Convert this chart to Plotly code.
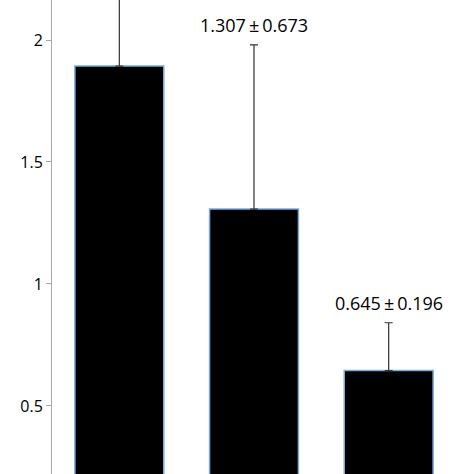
import plotly.graph_objects as go

# data
groups = ["A", "B", "C"]
means = [1.893, 1.307, 0.645]
errors = [0.55, 0.673, 0.196]
# first bar's label sits above the cropped top of the picture
labels = ["", "1.307\u2009±\u20090.673", "0.645\u2009±\u20090.196"]
y_ticks = [0.5, 1, 1.5, 2]

fig = go.Figure()
fig.add_trace(go.Bar(
    x=groups, y=means, width=0.66,
    marker=dict(color="black", line=dict(color="#78aadb", width=1.5)),
    error_y=dict(type="data", array=errors, symmetric=False, arrayminus=[0, 0, 0],
                 color="#333333", thickness=1.2, width=4),
))

# value labels above the error bars
for g, m, e, t in zip(groups, means, errors, labels):
    if not t:
        continue
    fig.add_annotation(x=g, y=m + e, text=t, showarrow=False,
                       yanchor="bottom", yshift=6,
                       font=dict(family="Open Sans, Liberation Sans", size=18, color="black"))

fig.update_xaxes(range=[-0.5, 2.5], showticklabels=False, showline=False,
                 showgrid=False, zeroline=False)
fig.update_yaxes(range=[0.221, 2.164], tickvals=y_ticks, ticktext=["0.5", "1", "1.5", "2"],
                 showline=True, linecolor="#a6a6a6", linewidth=1,
                 ticks="outside", ticklen=5, tickcolor="#a6a6a6",
                 showgrid=False, zeroline=False, automargin=False,
                 tickfont=dict(family="Open Sans, Liberation Sans", size=16, color="black"))
fig.update_layout(width=474, height=474, margin=dict(l=52, r=18, t=0, b=0),
                  plot_bgcolor="white", paper_bgcolor="white", showlegend=False)

# drop the default page margin so the figure sits at the window corner
fig.write_html("out.html", config={"displayModeBar": False},
               post_script="document.body.style.margin='0';")
